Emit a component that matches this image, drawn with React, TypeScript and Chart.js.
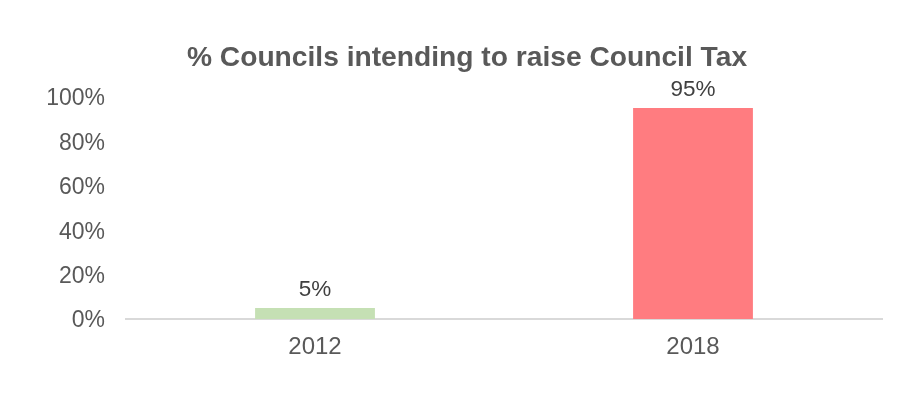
import React, { useEffect, useRef } from "react";
import { Chart, registerables } from "chart.js";

Chart.register(...registerables);

const categories = ["2012", "2018"];
const values = [0.05, 0.95];
const barColors = ["#C5E0B4", "#FF7C80"];
const titleText = "% Councils intending to raise Council Tax";
const FONT = "'Liberation Sans', Arial, sans-serif";

const labelPlugin = {
  id: "barLabels",
  afterDatasetsDraw(chart: any) {
    const ctx = chart.ctx;
    const meta = chart.getDatasetMeta(0);
    ctx.save();
    ctx.font = "22.5px " + FONT;
    ctx.fillStyle = "#404040";
    ctx.textAlign = "center";
    ctx.textBaseline = "alphabetic";
    meta.data.forEach((bar: any, i: number) => {
      const v = values[i];
      ctx.fillText(Math.round(v * 100) + "%", bar.x, bar.y - 12);
    });
    ctx.restore();
  },
};

const titlePlugin = {
  id: "customTitle",
  afterDraw(chart: any) {
    const ctx = chart.ctx;
    ctx.save();
    ctx.font = "bold 28.2px " + FONT;
    ctx.fillStyle = "#595959";
    ctx.textAlign = "center";
    ctx.textBaseline = "alphabetic";
    ctx.fillText(titleText, 467, 66);
    ctx.restore();
  },
};

export default function App() {
  const ref = useRef<HTMLCanvasElement | null>(null);
  useEffect(() => {
    if (!ref.current) return;
    const chart = new Chart(ref.current, {
      type: "bar",
      data: {
        labels: categories,
        datasets: [
          {
            data: values,
            backgroundColor: barColors,
            barPercentage: 0.317,
            categoryPercentage: 1,
          },
        ],
      },
      options: {
        animation: false,
        responsive: false,
        maintainAspectRatio: false,
        layout: { padding: { left: 0, right: 36, top: 97, bottom: 0 } },
        plugins: {
          legend: { display: false },
          tooltip: { enabled: false },
          title: { display: false },
        },
        scales: {
          x: {
            grid: { display: false, drawTicks: false },
            border: { display: true, color: "#D9D9D9", width: 2 },
            ticks: {
              color: "#595959",
              font: { family: FONT, size: 24 },
              padding: 14,
            },
            afterFit(scale: any) {
              scale.height = 85;
            },
          },
          y: {
            min: 0,
            max: 1,
            grid: { display: false, drawTicks: false },
            border: { display: false },
            ticks: {
              stepSize: 0.2,
              color: "#595959",
              font: { family: FONT, size: 23 },
              padding: 21,
              labelOffset: 2,
              callback: (v: any) => Math.round(Number(v) * 100) + "%",
            },
            afterFit(scale: any) {
              scale.width = 126;
            },
          },
        },
      },
      plugins: [labelPlugin, titlePlugin],
    });
    return () => chart.destroy();
  }, []);
  return (
    <div style={{ position: "absolute", left: 0, top: 0, width: 918, height: 404, background: "#fff" }}>
      <canvas ref={ref} width={918} height={404} style={{ width: 918, height: 404 }} />
    </div>
  );
}
